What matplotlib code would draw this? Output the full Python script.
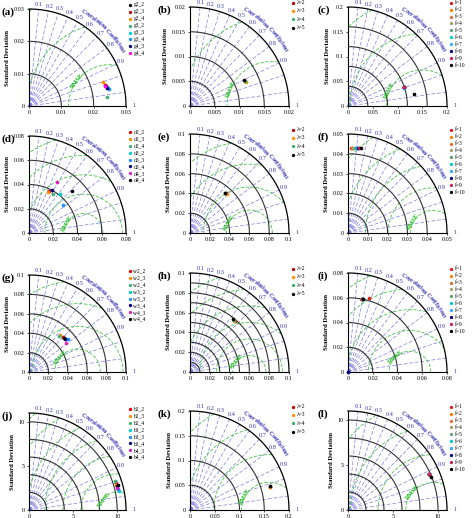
import numpy as np
import matplotlib

matplotlib.use("Agg")
import matplotlib.pyplot as plt
from matplotlib.font_manager import FontProperties

plt.rcParams["font.family"] = ["Liberation Serif", "DejaVu Serif"]

W, H = 474, 518

# ---- data ----
corr_ticks = [0.1, 0.2, 0.3, 0.4, 0.5, 0.6, 0.7, 0.8, 0.9]
corr_lines = corr_ticks + [0.95, 0.99]

g_names = ["g2_2", "g2_3", "g2_4", "g3_2", "g3_3", "g3_4", "g4_3", "g4_4"]
d_names = ["d2_2", "d2_3", "d2_4", "d3_2", "d3_3", "d3_4", "d4_3", "d4_4"]
w_names = ["w2_2", "w2_3", "w2_4", "w3_2", "w3_3", "w3_4", "w4_3", "w4_4"]
b_names = ["b2_2", "b2_3", "b2_4", "b3_2", "b3_3", "b3_4", "b4_3", "b4_4"]
lam_names = ["λ=2", "λ=3", "λ=4", "λ=5"]
f_names = ["f=1", "f=2", "f=3", "f=4", "f=5", "f=6", "f=7", "f=8", "f=9", "f=10"]

a_colors = ["black", "#c00000", "#ff8c00", "#3cb371", "#00ced1", "#1e90ff", "#000080", "#ff00ff"]
grp_colors = ["#e00000", "#ff8c00", "#3cb371", "#00ced1", "#1e90ff", "#000080", "#e020c0", "black"]
lam_colors = ["#c00000", "#ff8c00", "#3cb371", "black"]
f_colors = ["#e41a1c", "#ff7f00", "#e0703a", "#a0a060", "#60a070", "#00cccc",
            "#33aaff", "#000080", "#cc2255", "black"]

a_x = [0.0237, 0.0234, 0.0229, 0.0242, 0.0245, 0.0247, 0.0240, 0.0236]
a_y = [0.0061, 0.0065, 0.0075, 0.0029, 0.0055, 0.0054, 0.0057, 0.0063]
b_x = [0.0112, 0.0113, 0.0111, 0.0110]
b_y = [0.0050, 0.0049, 0.0051, 0.0052]
c_x = [0.1130, 0.1133, 0.1131, 0.1128, 0.1126, 0.1130, 0.1133, 0.1127, 0.1131, 0.1340]
c_y = [0.0376, 0.0374, 0.0375, 0.0377, 0.0378, 0.0375, 0.0373, 0.0376, 0.0374, 0.0245]
d_x = [0.0165, 0.0160, 0.0197, 0.0259, 0.0280, 0.0192, 0.0232, 0.0352]
d_y = [0.0347, 0.0340, 0.0320, 0.0320, 0.0232, 0.0352, 0.0419, 0.0347]
e_x = [0.0360, 0.0373, 0.0355, 0.0349]
e_y = [0.0400, 0.0390, 0.0403, 0.0407]
f_x = [0.0015, 0.0018, 0.0022, 0.0027, 0.0033, 0.0040, 0.0045, 0.0052, 0.0058, 0.0065]
f_y = [0.0431, 0.0431, 0.0431, 0.0431, 0.0431, 0.0431, 0.0431, 0.0431, 0.0431, 0.0431]
g_x = [0.0350, 0.0317, 0.0312, 0.0386, 0.0403, 0.0370, 0.0386, 0.0359]
g_y = [0.0362, 0.0380, 0.0372, 0.0345, 0.0338, 0.0345, 0.0303, 0.0355]
h_x = [0.0450, 0.0447, 0.0440, 0.0430]
h_y = [0.0515, 0.0520, 0.0528, 0.0532]
i_x = [0.0167, 0.0115, 0.0112, 0.0110, 0.0102, 0.0118, 0.0120, 0.0003, 0.0116, 0.0125]
i_y = [0.0597, 0.0589, 0.0589, 0.0589, 0.0589, 0.0589, 0.0589, 0.0003, 0.0589, 0.0589]
j_x = [9.81, 9.89, 9.73, 10.19, 10.08, 10.00, 10.00, 10.08]
j_y = [3.05, 2.86, 3.24, 2.18, 2.37, 2.67, 2.48, 2.86]
k_x = [0.1620, 0.1625, 0.1610, 0.1610]
k_y = [0.0470, 0.0465, 0.0480, 0.0483]
l_x = [9.00, 9.02, 9.01, 8.99, 9.03, 9.00, 9.02, 9.01, 9.00, 9.19]
l_y = [4.04, 4.02, 4.03, 4.05, 4.01, 4.04, 4.02, 4.03, 4.04, 3.68]

panel_letters = ["(a)", "(b)", "(c)", "(d)", "(e)", "(f)", "(g)", "(h)", "(i)", "(j)", "(k)", "(l)"]
std_max = [0.03, 0.02, 0.2, 0.08, 0.1, 0.05, 0.1, 0.1, 0.08, 11, 0.2, 11]
std_ticks = [
    [0, 0.01, 0.02, 0.03], [0, 0.005, 0.01, 0.015, 0.02], [0, 0.05, 0.1, 0.15, 0.2],
    [0, 0.02, 0.04, 0.06, 0.08], [0, 0.02, 0.04, 0.06, 0.08, 0.1], [0, 0.01, 0.02, 0.03, 0.04, 0.05],
    [0, 0.02, 0.04, 0.06, 0.08, 0.1], [0, 0.02, 0.04, 0.06, 0.08, 0.1], [0, 0.02, 0.04, 0.06, 0.08],
    [0, 5, 10], [0, 0.05, 0.1, 0.15, 0.2], [0, 5, 10],
]
std_arcs = [
    [0.01, 0.02], [0.005, 0.01, 0.015], [0.04, 0.08, 0.12, 0.16],
    [0.02, 0.04, 0.06], [0.02, 0.04, 0.06, 0.08], [0.01, 0.02, 0.03, 0.04],
    [0.02, 0.04, 0.06, 0.08], [0.01, 0.02, 0.03, 0.04, 0.05, 0.06, 0.07, 0.08, 0.09],
    [0.02, 0.04, 0.06], [2, 4, 6, 8, 10], [0.05, 0.1, 0.15], [2, 4, 6, 8, 10],
]
ref_std = [0.025, 0.0165, 0.15, 0.045, 0.06, 0.043, 0.05, 0.06, 0.05, 10, 0.16, 9.5]
rmse_step = [0.0128, 0.009, 0.073, 0.016, 0.0232, 0.0114, 0.0235, 0.0167, 0.0168, 2.05, 0.056, 3.08]
rmse_xy = [(0.0148, 0.0078), (0.0082, 0.0035), (0.084, 0.032), (0.0312, 0.008),
           (0.0397, 0.0112), (0.0332, 0.0059), (0.0324, 0.0155), (0.0475, 0.011),
           (0.0389, 0.0125), (8.47, 1.15), (0.111, 0.027), (7.17, 2.02)]
panel_x = [a_x, b_x, c_x, d_x, e_x, f_x, g_x, h_x, i_x, j_x, k_x, l_x]
panel_y = [a_y, b_y, c_y, d_y, e_y, f_y, g_y, h_y, i_y, j_y, k_y, l_y]
panel_names = [g_names, lam_names, f_names, d_names, lam_names, f_names,
               w_names, lam_names, f_names, b_names, lam_names, f_names]
panel_colors = [a_colors, lam_colors, f_colors, grp_colors, lam_colors, f_colors,
                grp_colors, lam_colors, f_colors, grp_colors, lam_colors, f_colors]

# ---- layout in pixels ----
col_x = [29, 190, 348]
col_r = [97, 99, 99]
row_y = [106, 233, 372, 510]
letter_x = [1, 157, 318]

BLUE_LINE = "#7070dc"
BLUE_TEXT = "#3434b4"
GREEN = "#44c444"

fig = plt.figure(figsize=(W / 100, H / 100), dpi=100)
renderer = fig.canvas.get_renderer()


def curved_label(ax, text, R, size):
    prop = FontProperties(family="Liberation Serif", weight="bold", size=size)
    widths = []
    for ch in text:
        w, _, _ = renderer.get_text_width_height_descent("n" if ch == " " else ch, prop, ismath=False)
        widths.append(w * (0.6 if ch == " " else 1.0))
    start, end = np.radians(61), np.radians(30)
    scale = (start - end) / sum(widths)
    ang = start
    for ch, w in zip(text, widths):
        a = ang - w * scale / 2
        ax.text(1.12 * R * np.cos(a), 1.12 * R * np.sin(a), ch, rotation=np.degrees(a) - 90,
                rotation_mode="anchor", ha="center", va="center", fontproperties=prop,
                color=BLUE_TEXT, clip_on=False)
        ang -= w * scale


for idx in range(12):
    row, col = divmod(idx, 3)
    R = std_max[idx]
    ox, oy, rp = col_x[col], row_y[row], col_r[col]
    ax = fig.add_axes([ox / W, 1 - oy / H, rp / W, rp / H])
    ax.set_xlim(0, R)
    ax.set_ylim(0, R)
    for side in ("top", "right"):
        ax.spines[side].set_visible(False)
    for side in ("left", "bottom"):
        ax.spines[side].set_linewidth(0.8)
    ax.set_xticks(std_ticks[idx])
    ax.set_yticks(std_ticks[idx])
    ax.set_xticklabels([f"{t:g}" for t in std_ticks[idx]])
    ax.set_yticklabels([f"{t:g}" for t in std_ticks[idx]])
    ax.tick_params(labelsize=4.4, length=1.5, width=0.5, pad=1.5)
    ax.set_ylabel("Standard Deviation", fontsize=4.8, fontweight="bold", labelpad=2.5)

    th = np.linspace(0, np.pi / 2, 300)
    ax.plot(R * np.cos(th), R * np.sin(th), color="black", lw=0.9, clip_on=False, zorder=3)
    for s in std_arcs[idx]:
        ax.plot(s * np.cos(th), s * np.sin(th), color="#333333", lw=0.8, zorder=3)

    for c in corr_lines:
        a = np.arccos(c)
        ax.plot([0, R * np.cos(a)], [0, R * np.sin(a)], color=BLUE_LINE, lw=0.45,
                ls=(0, (6, 3)), clip_on=False, zorder=2)
    for c in corr_ticks:
        a = np.arccos(c)
        ax.text(1.05 * R * np.cos(a), 1.05 * R * np.sin(a), f"{c:g}", fontsize=4.5,
                color=BLUE_TEXT, ha="center", va="center", clip_on=False)
    ax.text(1.08 * R, 0.005 * R, "1", fontsize=4.4, color=BLUE_TEXT, ha="center",
            va="center", clip_on=False)
    curved_label(ax, "Correlation Coefficient", R, 4.6)

    # RMSE contours around the reference point
    ref, step = ref_std[idx], rmse_step[idx]
    phi = np.linspace(0, np.pi, 400)
    k = 1
    while k * step < ref + R:
        rr = k * step
        xs = ref + rr * np.cos(phi)
        ys = rr * np.sin(phi)
        xs = np.where(np.hypot(xs, ys) <= R, xs, np.nan)
        ax.plot(xs, ys, color=GREEN, lw=0.6, ls=(0, (4, 2)), zorder=2)
        k += 1
    lx, ly = rmse_xy[idx]
    rot = np.degrees(np.arctan2(ly, lx - ref)) - 90
    ax.text(lx, ly, "RMSE", fontsize=4.6, fontweight="bold", color="#22bb22",
            rotation=rot, ha="center", va="center", rotation_mode="anchor", zorder=4)

    for xv, yv, nm, colr in zip(panel_x[idx], panel_y[idx], panel_names[idx], panel_colors[idx]):
        ax.scatter([xv], [yv], s=7, color=colr, label=nm, zorder=5, linewidths=0, clip_on=False)
    n = len(panel_names[idx])
    ax.legend(loc="upper left", bbox_to_anchor=(1.02, 1.07), frameon=False, fontsize=4,
              handlelength=0.6, handletextpad=0.4, borderaxespad=0, borderpad=0,
              labelspacing=0.35 if n > 4 else 0.6, scatterpoints=1, markerscale=0.9)

    fig.text(letter_x[col] / W, 1 - (oy - rp + 3) / H, panel_letters[idx], fontsize=8,
             fontweight="bold", ha="left", va="center")

fig.savefig("out.png", dpi=100)
